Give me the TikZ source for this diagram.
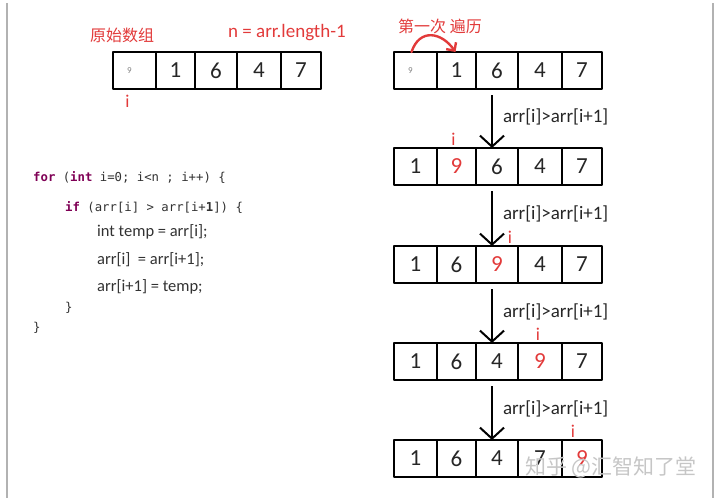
\documentclass[tikz,border=0pt]{standalone}
\usepackage{fontspec}
\setmainfont{Carlito}
\setmonofont{DejaVu Sans Mono}
\newfontfamily\cjk{Noto Sans CJK SC}
\usetikzlibrary{arrows.meta,positioning}
\definecolor{hired}{RGB}{226,58,58}
\definecolor{kwcol}{RGB}{127,0,85}
\definecolor{codetext}{RGB}{50,50,50}
\newcommand{\kw}[1]{\textcolor{kwcol}{\bfseries #1}}
\newcommand{\hi}[1]{\textcolor{hired}{#1}}
\newcommand{\nine}{\hspace*{-10pt}\textcolor{gray}{\fontsize{9}{9}\selectfont 9}}
% one row of five cells, #2 = top left corner
\newcommand{\cellrow}[7]{%
  \node[cell,minimum width=43pt] (#1-1) at (#2) {#3};
  \node[cell,minimum width=39pt,right=0pt of #1-1] (#1-2) {#4};
  \node[cell,minimum width=42pt,right=0pt of #1-2] (#1-3) {#5};
  \node[cell,minimum width=44pt,right=0pt of #1-3] (#1-4) {#6};
  \node[cell,minimum width=40pt,right=0pt of #1-4] (#1-5) {#7};}
\begin{document}
\begin{tikzpicture}[x=1pt,y=-1pt,line join=round]
\tikzset{cell/.style={draw,line width=2.6pt,minimum height=37pt,inner sep=0pt,outer sep=0pt,
    anchor=north west,text=black!85,font=\fontsize{23}{23}\selectfont},
  imark/.style={text=hired,inner sep=0pt,font=\fontsize{18}{18}\selectfont},
  cond/.style={inner sep=0pt,text=black!85,font=\fontsize{19}{19}\selectfont},
  note/.style={anchor=west,inner sep=0pt,text=hired},
  code/.style={anchor=west,inner sep=0pt,text=codetext},
  down/.style={-{Straight Barb[length=11pt,width=24pt]},line width=2pt}}
\useasboundingbox (0,0) rectangle (720,498);
\draw[gray!60,line width=1.5pt] (7,3) -- (7,498) (713,3) -- (713,498);

% source array
\node[note,font=\cjk\fontsize{16}{16}\selectfont] (title) at (90,35) {原始数组};
\node[note,font=\fontsize{19}{19}\selectfont] (nlen) at (228,33) {n = arr.length-1};
\cellrow{t}{113,52}{\nine}{1}{6}{4}{7}
\node[imark,below=6pt of t-1.south,xshift=-7pt] (ti) {i};

% code
\node[code,font=\ttfamily\fontsize{12.3}{12.3}\selectfont] (c1) at (33,177) {\kw{for} (\kw{int} i=0; i<n ; i++) \{};
\node[code,font=\ttfamily\fontsize{12.3}{12.3}\selectfont] (c2) at (65,207) {\kw{if} (arr[i] > arr[i+\textbf{1}]) \{};
\node[code,font=\fontsize{16.5}{16.5}\selectfont] (c3) at (97,232) {int temp = arr[i];};
\node[code,font=\fontsize{16.5}{16.5}\selectfont] (c4) at (97,260) {arr[i]\ \ = arr[i+1];};
\node[code,font=\fontsize{16.5}{16.5}\selectfont] (c5) at (97,287) {arr[i+1] = temp;};
\node[code,font=\ttfamily\fontsize{12.3}{12.3}\selectfont] (c6) at (65,308) {\}};
\node[code,font=\ttfamily\fontsize{12.3}{12.3}\selectfont] (c7) at (33,328) {\}};

% first pass
\node[note,font=\cjk\fontsize{16}{16}\selectfont] (pass) at (398,26) {第一次 遍历};
\cellrow{r1}{394,52}{\nine}{1}{6}{4}{7}
\cellrow{r2}{394,148}{1}{\hi{9}}{6}{4}{7}
\cellrow{r3}{394,246}{1}{6}{\hi{9}}{4}{7}
\cellrow{r4}{394,343}{1}{6}{4}{\hi{9}}{7}
\cellrow{r5}{394,440}{1}{6}{4}{7}{\hi{9}}
\draw[hired,line width=2.4pt,line cap=round,-{Straight Barb[length=6pt,width=12pt]}]
  ([xshift=-4pt]r1-1.north) .. controls +(8,-24) and +(-14,-20) .. ([xshift=-1pt]r1-2.north);

\foreach \a/\b in {r1/r2,r2/r3,r3/r4,r4/r5}
  \draw[down] ([xshift=-5pt,yshift=-6pt]\a-3.south) -- ([xshift=-5pt]\b-3.north)
    node[cond,pos=0.42,right=10pt] {arr[i]>arr[i+1]};

\node[imark,above=2pt of r2-2.north,xshift=-3pt] (i2) {i};
\node[imark,above=2pt of r3-3.north east,xshift=-8pt] (i3) {i};
\node[imark,above=2pt of r4-4.north,xshift=-2pt] (i4) {i};
\node[imark,above=2pt of r5-5.north,xshift=-9pt] (i5) {i};

\node[anchor=west,inner sep=0pt,text=gray!45,font=\cjk\fontsize{21}{21}\selectfont] (wm) at (525,467) {知乎 @汇智知了堂};
\end{tikzpicture}
\end{document}
